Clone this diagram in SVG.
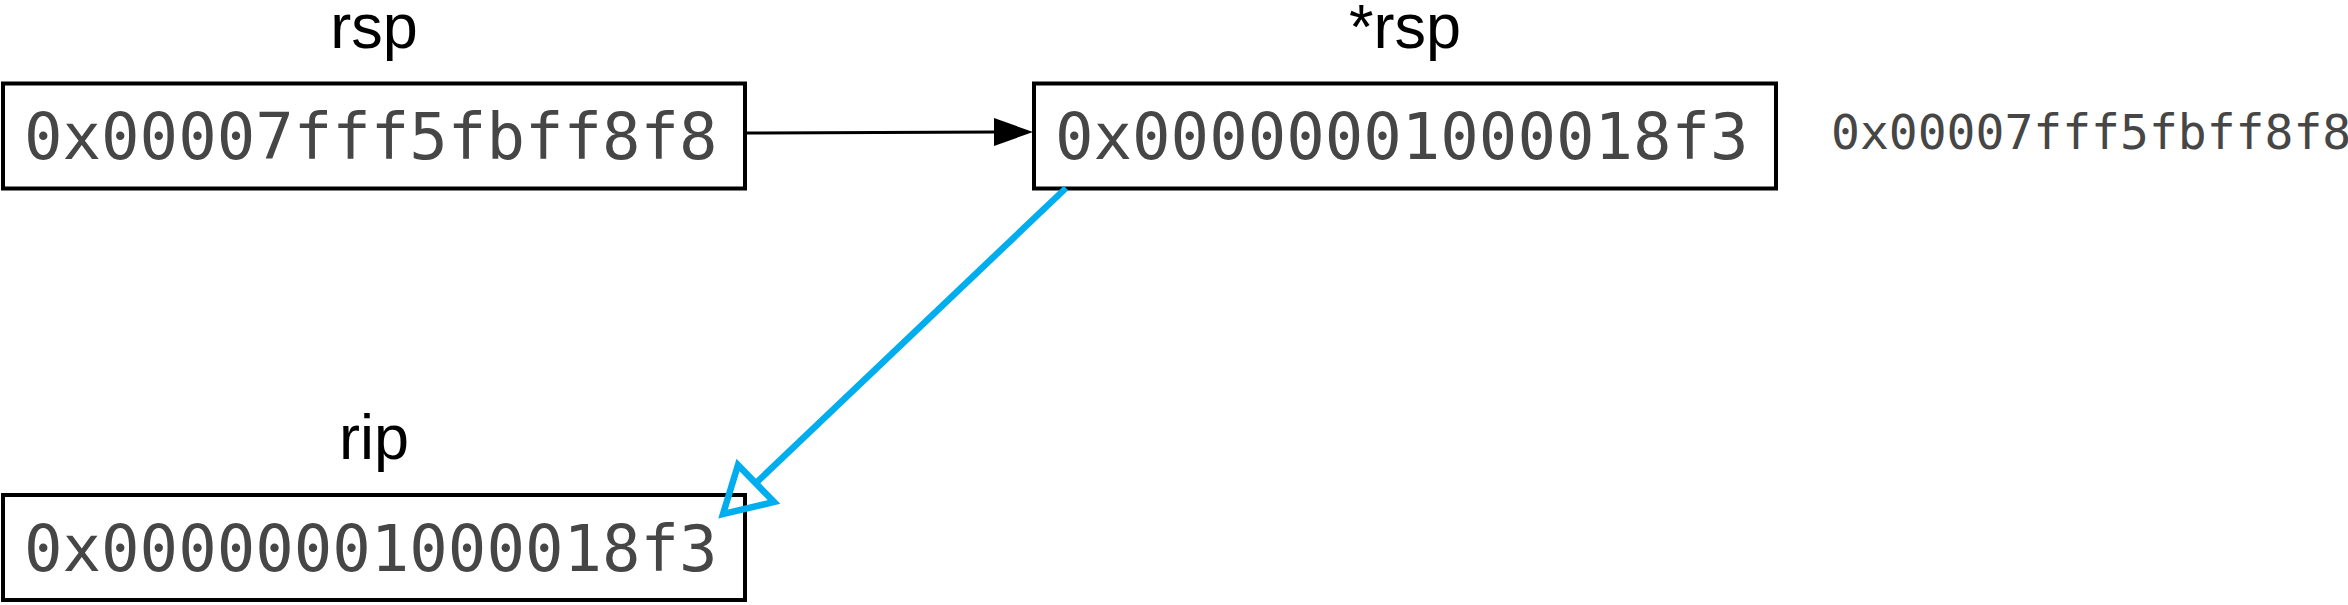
<svg xmlns="http://www.w3.org/2000/svg" width="2348" height="605" viewBox="0 0 2348 605">
<style>
.box{fill:#ffffff;stroke:#000000;stroke-width:4}
.lbl{font-family:"Liberation Sans",Arial,sans-serif;font-size:63px;fill:#000000;text-anchor:middle}
.val{font-family:"DejaVu Sans Mono","Liberation Mono",monospace;font-size:64px;fill:#464646}
.side{font-family:"DejaVu Sans Mono","Liberation Mono",monospace;font-size:48px;fill:#464646}
.blk{stroke:#000000;stroke-width:3;fill:none}
.blu{stroke:#00AEEF;stroke-width:6.5;fill:none}
</style>
<rect width="2348" height="605" fill="#ffffff"/>
<g id="node-rsp">
<text class="lbl" x="374" y="48">rsp</text>
<rect class="box" x="3" y="83.5" width="742" height="105"/>
<text class="val" x="24" y="159">0x00007fff5fbff8f8</text>
</g>
<g id="node-star-rsp">
<text class="lbl" x="1405" y="48">*rsp</text>
<rect class="box" x="1034" y="83.5" width="742" height="105"/>
<text class="val" x="1055" y="159">0x00000001000018f3</text>
</g>
<g id="node-rip">
<text class="lbl" x="374" y="459">rip</text>
<rect class="box" x="3" y="495" width="742" height="105"/>
<text class="val" x="24" y="571">0x00000001000018f3</text>
</g>
<g id="side-address">
<text class="side" x="1831" y="149">0x00007fff5fbff8f8</text>
</g>
<g id="connectors">
<line class="blk" x1="747" y1="133" x2="996" y2="132"/>
<polygon points="1033,132 994,118 994,146" fill="#000000"/>
<line class="blu" x1="1066" y1="188" x2="756" y2="483"/>
<polygon class="blu" points="723,514 738,465 774,502" stroke-linejoin="miter"/>
</g>
</svg>
